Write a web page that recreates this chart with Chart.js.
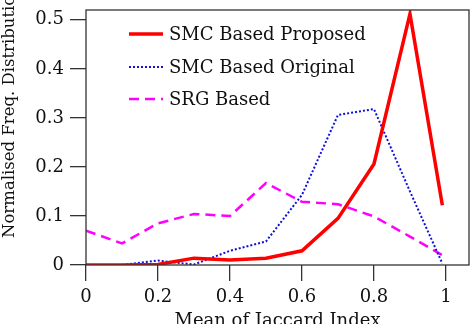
<!DOCTYPE html>
<html>
<head>
<meta charset="utf-8">
<script src="https://cdn.jsdelivr.net/npm/chart.js@4.4.1/dist/chart.umd.min.js"></script>
<style>
  html, body { margin: 0; padding: 0; background: #fff; }
  #wrap { width: 474px; height: 324px; position: relative; }
</style>
</head>
<body>
<div id="wrap"><canvas id="chart" width="474" height="324"></canvas></div>
<script>
    // data
    const xValues = [0, 0.1, 0.2, 0.3, 0.4, 0.5, 0.6, 0.7, 0.8, 0.9, 0.99];
    const proposed = [0, 0, 0.001, 0.014, 0.010, 0.014, 0.029, 0.095, 0.206, 0.512, 0.122];
    const original = [0, 0, 0.009, 0.001, 0.029, 0.048, 0.143, 0.306, 0.318, 0.150, 0.003];
    const srg = [0.070, 0.044, 0.085, 0.104, 0.100, 0.167, 0.129, 0.124, 0.099, 0.058, 0.020];
    const seriesNames = ["SMC Based Proposed", "SMC Based Original", "SRG Based"];
    const xTicks = [0, 0.2, 0.4, 0.6, 0.8, 1];
    const yTicks = [0, 0.1, 0.2, 0.3, 0.4, 0.5];
    const xTitle = "Mean of Jaccard Index";
    const yTitle = "Normalised Freq. Distribution";

    const FONT = "'DejaVu Serif', serif";

    function pts(ys) {
        return ys.map((y, i) => ({ x: xValues[i], y: y }));
    }

    // frame, legend and axis titles
    const decor = {
        id: "decor",
        afterDraw(chart) {
            const ctx = chart.ctx, a = chart.chartArea;
            ctx.save();
            ctx.strokeStyle = "#333";
            ctx.lineWidth = 1.3;
            ctx.strokeRect(a.left, a.top, a.right - a.left, a.bottom - a.top);

            // legend
            ctx.font = "18px " + FONT;
            ctx.textBaseline = "middle";
            ctx.textAlign = "left";
            const rows = [34, 67, 99];
            chart.data.datasets.forEach((ds, i) => {
                ctx.strokeStyle = ds.borderColor;
                ctx.lineWidth = ds.borderWidth;
                ctx.setLineDash(ds.borderDash || []);
                ctx.beginPath();
                ctx.moveTo(129, rows[i]);
                ctx.lineTo(163, rows[i]);
                ctx.stroke();
                ctx.setLineDash([]);
                ctx.fillStyle = "#111";
                ctx.fillText(ds.label, 169, rows[i] + 1);
            });

            // axis titles
            ctx.fillStyle = "#111";
            ctx.font = "18px " + FONT;
            ctx.textAlign = "center";
            ctx.fillText(xTitle, (a.left + a.right) / 2, 321);
            ctx.font = "16.5px " + FONT;
            ctx.textAlign = "left";
            ctx.textBaseline = "alphabetic";
            ctx.translate(14, 238);
            ctx.rotate(-Math.PI / 2);
            ctx.fillText(yTitle, 0, 0);
            ctx.restore();
        }
    };

    const tickFont = { family: FONT, size: 18 };

    new Chart(document.getElementById("chart"), {
        type: "line",
        data: {
            datasets: [
                { label: seriesNames[0], data: pts(proposed), borderColor: "#ff0000", borderWidth: 3.5, pointRadius: 0, tension: 0 },
                { label: seriesNames[1], data: pts(original), borderColor: "#1010d8", borderWidth: 2, borderDash: [2, 2], pointRadius: 0, tension: 0 },
                { label: seriesNames[2], data: pts(srg), borderColor: "#ff00ff", borderWidth: 2.5, borderDash: [10, 6], pointRadius: 0, tension: 0 }
            ]
        },
        options: {
            responsive: false,
            animation: false,
            layout: { padding: { top: 10, right: 5, left: 0, bottom: 0 } },
            plugins: { legend: { display: false }, tooltip: { enabled: false } },
            scales: {
                x: {
                    type: "linear",
                    min: 0,
                    max: 1.064,
                    afterBuildTicks: s => { s.ticks = xTicks.map(v => ({ value: v })); },
                    afterFit: s => { s.height = 59; s.paddingLeft = 0; s.paddingRight = 0; },
                    grid: { drawOnChartArea: false, drawTicks: true, tickLength: 16, color: "#333", lineWidth: 1.3 },
                    border: { display: false },
                    ticks: { color: "#111", font: tickFont, padding: 6, maxRotation: 0, callback: v => String(v) }
                },
                y: {
                    min: 0,
                    max: 0.52,
                    afterBuildTicks: s => { s.ticks = yTicks.map(v => ({ value: v })); },
                    afterFit: s => { s.width = 86; s.paddingTop = 0; s.paddingBottom = 0; },
                    grid: { drawOnChartArea: false, drawTicks: true, tickLength: 16, color: "#333", lineWidth: 1.3 },
                    border: { display: false },
                    ticks: { color: "#111", font: tickFont, padding: 6, callback: v => String(v) }
                }
            }
        },
        plugins: [decor]
    });
</script>
</body>
</html>
